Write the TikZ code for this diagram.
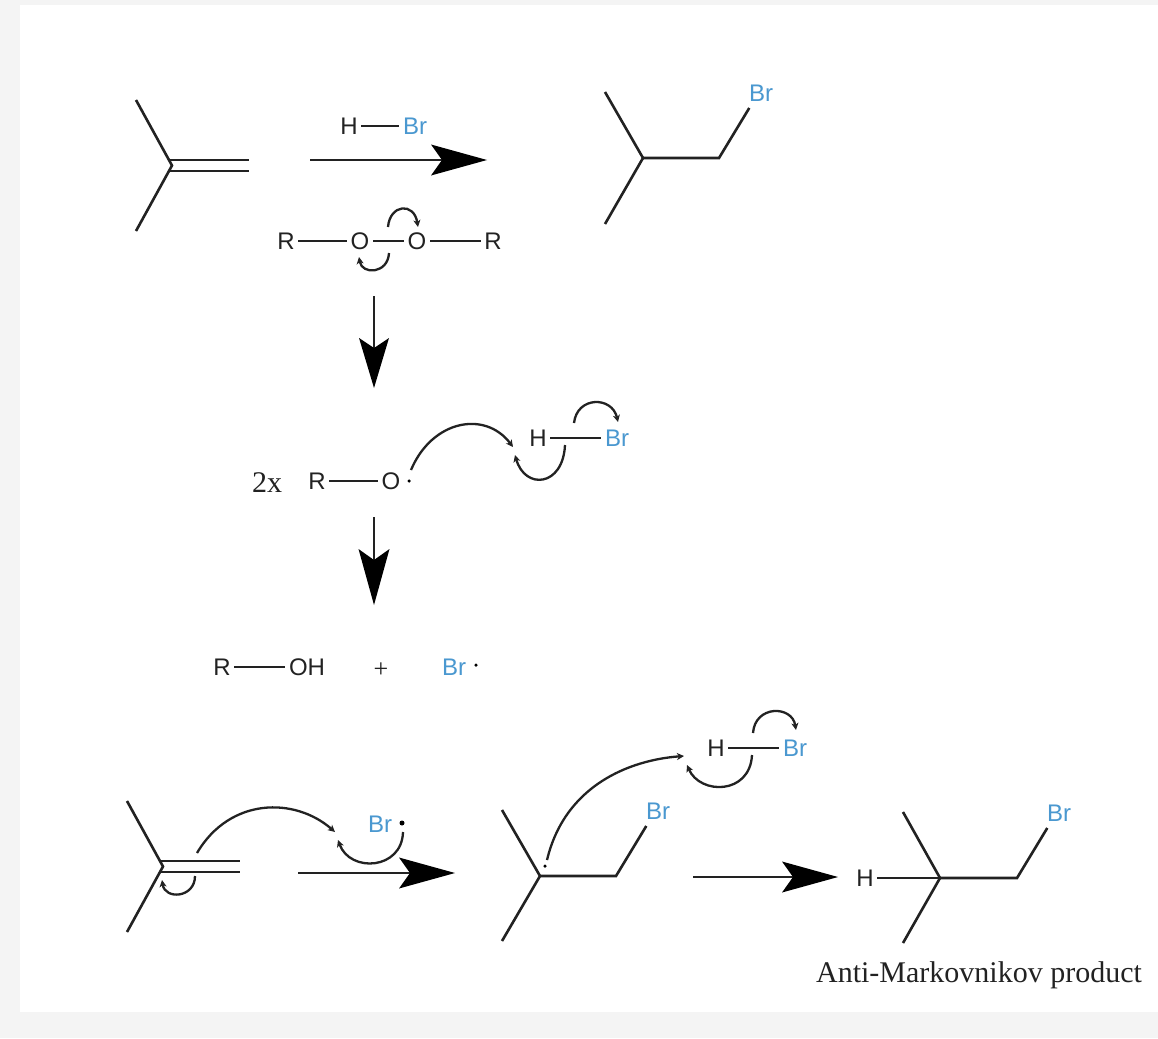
\documentclass[tikz,border=0pt]{standalone}
\usepackage{fontspec}
\setmainfont{Liberation Serif}
\newfontfamily\atomfont{Liberation Sans}
\usetikzlibrary{arrows.meta}
\definecolor{brblue}{HTML}{4A98D0}
\definecolor{inkline}{HTML}{222222}
\definecolor{pagegrey}{HTML}{F4F4F4}
\tikzset{
  bond/.style={draw=inkline,line width=2.6pt,line cap=butt,line join=miter},
  atom/.style={inner xsep=3.5pt,inner ysep=3.5pt,text=inkline,font=\atomfont\fontsize{24}{24}\selectfont},
  bromine/.style={atom,text=brblue},
  serif/.style={inner sep=0pt,text=inkline,font=\fontsize{30}{30}\selectfont},
  react/.style={bond,-{Stealth[length=56pt,width=31pt,inset=11pt,fill=black,line width=0pt]}},
  elec/.style={bond,line width=2.3pt,-{Stealth[length=7pt,width=7pt,inset=2pt]}},
  radical/.style={circle,fill=black,inner sep=0pt,minimum size=4pt}
}
\begin{document}
\begin{tikzpicture}[x=1pt,y=-1pt]
\useasboundingbox (0,0) rectangle (1158,1038);
\fill[pagegrey] (0,0) rectangle (1158,1038);
\fill[white] (20,5) rectangle (1158,1012);

% --- first alkene
\coordinate (a1) at (136,100);
\coordinate (a2) at (172,165.5);
\coordinate (a3) at (136,231);
\coordinate (a4u) at (170,160);
\coordinate (a4d) at (170,171);
\coordinate (a5u) at (249,160);
\coordinate (a5d) at (249,171);
\draw[bond] (a1) -- (a2) -- (a3);
\draw[bond] (a4u) -- (a5u);
\draw[bond] (a4d) -- (a5d);

% --- first reaction arrow with HBr
\node[atom] (h1) at (349,126) {H};
\node[bromine] (br1) at (415,126) {Br};
\draw[bond] (h1) -- (br1);
\coordinate (r1s) at (310,160);
\coordinate (r1e) at (487,160);
\draw[react] (r1s) -- (r1e);

% --- first product
\coordinate (p1) at (605,92);
\coordinate (p2) at (643,158);
\coordinate (p3) at (605,224);
\coordinate (p4) at (719,158);
\node[bromine] (br2) at (761,93) {Br};
\draw[bond] (p1) -- (p2) -- (p3);
\draw[bond] (p2) -- (p4) -- ([xshift=4pt,yshift=-3pt]br2.south west);

% --- peroxide
\node[atom] (r1) at (286,241) {R};
\node[atom] (o1) at (360,241) {O};
\node[atom] (o2) at (417,241) {O};
\node[atom] (r2) at (493,241) {R};
\draw[bond] (r1) -- (o1);
\draw[bond] (o1) -- (o2);
\draw[bond] (o2) -- (r2);
\coordinate (c1s) at (388,227);
\coordinate (c1e) at (418,227);
\coordinate (c2s) at (389,253);
\coordinate (c2e) at (359,257);
\draw[elec] (c1s) .. controls (390,204) and (414,202) .. (c1e);
\draw[elec] (c2s) .. controls (388,274) and (362,275) .. (c2e);

% --- down arrow
\coordinate (d1s) at (374,296);
\coordinate (d1e) at (374,388);
\draw[react,-{Stealth[length=50pt,width=30pt,inset=10pt,fill=black,line width=0pt]}] (d1s) -- (d1e);

% --- alkoxy radical
\node[serif] (two) at (267,483) {2x};
\node[atom] (r3) at (317,481) {R};
\node[atom] (o3) at (391,481) {O};
\node[radical,minimum size=3.5pt] (o3dot) at (409,481) {};
\draw[bond] (r3) -- (o3);
\node[atom] (h2) at (538,438) {H};
\node[bromine] (br3) at (617,438) {Br};
\draw[bond] (h2) -- (br3);
\coordinate (c3s) at (411,470);
\coordinate (c3e) at (513,447);
\coordinate (c4s) at (565,445);
\coordinate (c4e) at (515,455);
\coordinate (c5s) at (574,423);
\coordinate (c5e) at (618,422);
\draw[elec] (c3s) .. controls (432,420) and (485,410) .. (c3e);
\draw[elec] (c4s) .. controls (563,487) and (525,490) .. (c4e);
\draw[elec] (c5s) .. controls (577,396) and (612,396) .. (c5e);

% --- second down arrow
\coordinate (d2s) at (374,517);
\coordinate (d2e) at (374,605);
\draw[react] (d2s) -- (d2e);

% --- products of propagation
\node[atom] (r4) at (222,667) {R};
\node[atom] (oh) at (307,667) {OH};
\draw[bond] (r4) -- (oh);
\node[serif,font=\fontsize{26}{26}\selectfont] (plus) at (381,670) {+};
\node[bromine] (br4) at (454,667) {Br};
\node[radical,minimum size=3.5pt] (br4dot) at (476,665) {};

% --- bottom alkene
\coordinate (b1) at (127,801);
\coordinate (b2) at (163,866.5);
\coordinate (b3) at (127,932);
\coordinate (b4u) at (161,861);
\coordinate (b4d) at (161,872);
\coordinate (b5u) at (240,861);
\coordinate (b5d) at (240,872);
\draw[bond] (b1) -- (b2) -- (b3);
\draw[bond] (b4u) -- (b5u);
\draw[bond] (b4d) -- (b5d);
\node[bromine] (br5) at (380,824) {Br};
\node[radical,minimum size=5pt] (br5dot) at (402,823) {};
\coordinate (c6s) at (197,853);
\coordinate (c6e) at (335,832);
\coordinate (c7s) at (403,832);
\coordinate (c7e) at (338,840);
\coordinate (c8s) at (195,876);
\coordinate (c8e) at (162,880);
\draw[elec] (c6s) .. controls (230,797) and (295,797) .. (c6e);
\draw[elec] (c7s) .. controls (402,870) and (350,873) .. (c7e);
\draw[elec] (c8s) .. controls (195,898) and (165,900) .. (c8e);
\coordinate (r2s) at (298,873);
\coordinate (r2e) at (455,873);
\draw[react] (r2s) -- (r2e);

% --- radical intermediate
\coordinate (q1) at (502,810);
\coordinate (q2) at (540,876);
\coordinate (q3) at (502,941);
\coordinate (q4) at (616,876);
\node[bromine] (br6) at (658,811) {Br};
\draw[bond] (q1) -- (q2) -- (q3);
\draw[bond] (q2) -- (q4) -- ([xshift=4pt,yshift=-3pt]br6.south west);
\node[radical,minimum size=3.5pt] (qdot) at (545,866) {};
\node[atom] (h3) at (716,748) {H};
\node[bromine] (br7) at (795,748) {Br};
\draw[bond] (h3) -- (br7);
\coordinate (c9s) at (547,860);
\coordinate (c9e) at (684,756);
\coordinate (c10s) at (752,755);
\coordinate (c10e) at (687,765);
\coordinate (c11s) at (753,733);
\coordinate (c11e) at (796,730);
\draw[elec] (c9s) .. controls (565,785) and (630,760) .. (c9e);
\draw[elec] (c10s) .. controls (750,795) and (700,795) .. (c10e);
\draw[elec] (c11s) .. controls (755,705) and (792,705) .. (c11e);
\coordinate (r3s) at (693,877);
\coordinate (r3e) at (838,877);
\draw[react] (r3s) -- (r3e);

% --- final product
\node[atom] (h4) at (865,878) {H};
\coordinate (f1) at (903,812);
\coordinate (f2) at (940,878);
\coordinate (f3) at (903,943);
\coordinate (f4) at (1017,878);
\node[bromine] (br8) at (1059,813) {Br};
\draw[bond] (f1) -- (f2) -- (f3);
\draw[bond] (h4) -- (f2);
\draw[bond] (f2) -- (f4) -- ([xshift=4pt,yshift=-3pt]br8.south west);
\node[serif] (label) at (979,975) {Anti-Markovnikov product};
\end{tikzpicture}
\end{document}
